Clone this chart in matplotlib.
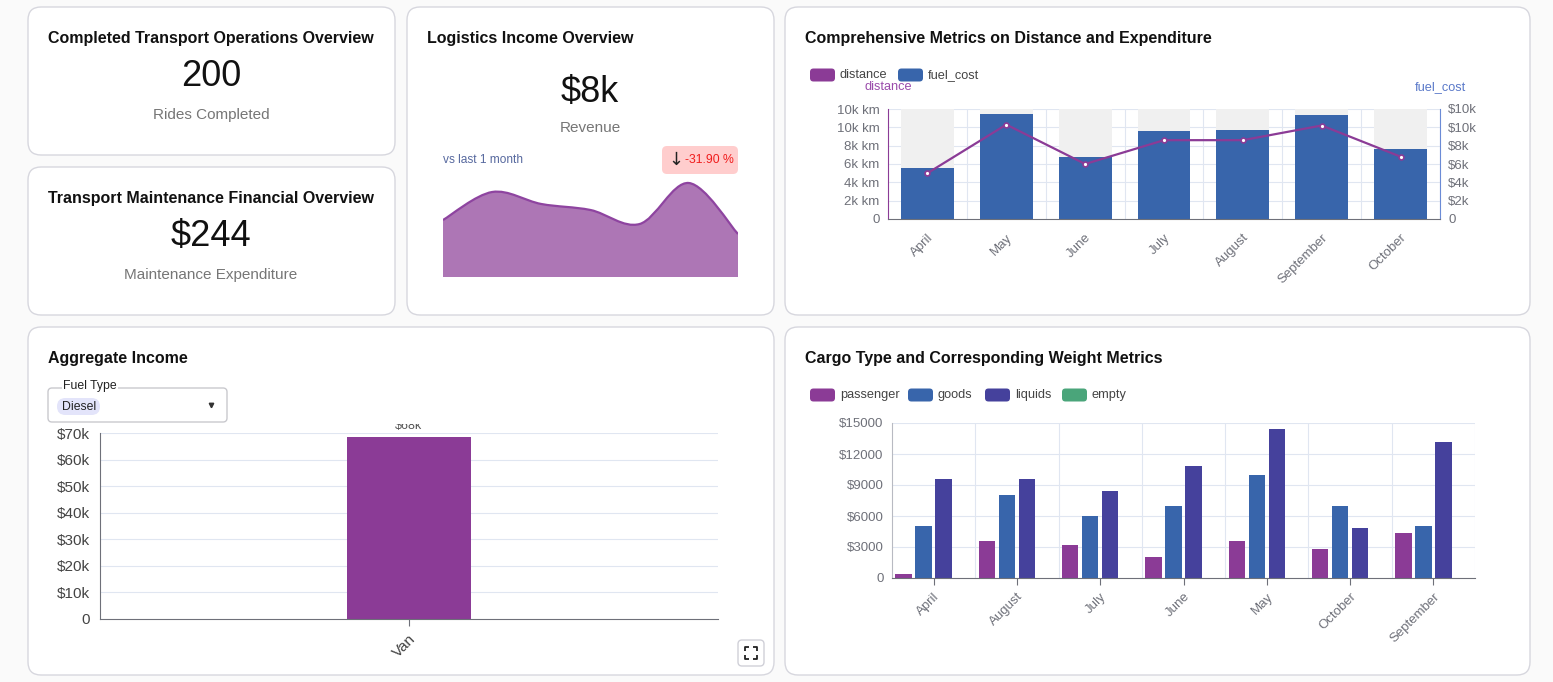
import matplotlib
matplotlib.use("Agg")
import matplotlib.pyplot as plt
import matplotlib.ticker as ticker
from matplotlib.patches import FancyBboxPatch, PathPatch
from matplotlib.path import Path
from matplotlib.transforms import Bbox, TransformedBbox
import numpy as np

# ==========================================
# DATA
# ==========================================
rides_completed = "200"
maintenance_spend = "$244"
revenue_total = "$8k"
revenue_change = "-31.90 %"
revenue_trend = [5.7, 8.5, 7.3, 6.7, 5.3, 9.4, 4.3]  # hidden axis sparkline

metric_months = ["April", "May", "June", "July", "August", "September", "October"]
distance_km = [5000, 10300, 6000, 8600, 8600, 10200, 6800]
fuel_cost = [5600, 11500, 6800, 9650, 9700, 11300, 7650]
metric_ticks = [0, 2000, 4000, 6000, 8000, 10000, 12000]
distance_tick_labels = ["0", "2k km", "4k km", "6k km", "8k km", "10k km", "10k km"]
fuel_tick_labels = ["0", "$2k", "$4k", "$6k", "$8k", "$10k", "$10k"]

vehicle_types = ["Van"]
vehicle_income = [68600]
income_ticks = [0, 10000, 20000, 30000, 40000, 50000, 60000, 70000]
income_tick_labels = ["0", "$10k", "$20k", "$30k", "$40k", "$50k", "$60k", "$70k"]

cargo_months = ["April", "August", "July", "June", "May", "October", "September"]
cargo_passenger = [400, 3600, 3200, 2000, 3600, 2800, 4400]
cargo_goods = [5000, 8000, 6000, 7000, 10000, 7000, 5000]
cargo_liquids = [9600, 9600, 8400, 10800, 14400, 4800, 13200]
cargo_empty = [0, 0, 0, 0, 0, 0, 0]
cargo_ticks = [0, 3000, 6000, 9000, 12000, 15000]
cargo_tick_labels = ["0", "$3000", "$6000", "$9000", "$12000", "$15000"]

# ==========================================
# STYLE
# ==========================================
PURPLE = "#8b3b96"
BLUE = "#3865ab"
INDIGO = "#45419c"
GREEN = "#4aa57a"
GRID = "#e0e6f1"
AXIS = "#6e7079"
CARD_EDGE = "#d7d7de"
TITLE_SIZE = 11.5
TICK_SIZE = 9.5

plt.rcParams["font.family"] = ["Liberation Sans", "DejaVu Sans"]

W, H = 1553, 682
fig = plt.figure(figsize=(W / 100, H / 100), dpi=100, facecolor="#fafafa")

# background canvas in pixel coordinates
bg = fig.add_axes([0, 0, 1, 1])
bg.set_xlim(0, W)
bg.set_ylim(H, 0)
bg.axis("off")


def px_axes(x0, y0, x1, y1):
    ax = fig.add_axes([x0 / W, 1 - y1 / H, (x1 - x0) / W, (y1 - y0) / H])
    ax.patch.set_alpha(0)
    return ax


def card(x0, y0, x1, y1):
    bg.add_patch(FancyBboxPatch((x0, y0), x1 - x0, y1 - y0,
                                boxstyle="round,pad=0,rounding_size=13",
                                fc="white", ec=CARD_EDGE, lw=1))


def legend_item(x, y, color, label):
    bg.add_patch(FancyBboxPatch((x, y - 6.5), 25, 13, boxstyle="round,pad=0,rounding_size=3.5",
                                fc=color, ec="none"))
    bg.text(x + 30, y, label, fontsize=9.2, color="#444", va="center", ha="left")


for box in [(28, 7, 395, 155), (28, 167, 395, 315), (407, 7, 774, 315),
            (785, 7, 1530, 315), (28, 327, 774, 675), (785, 327, 1530, 675)]:
    card(*box)

# --- KPI cards ---
bg.text(211, 38, "Completed Transport Operations Overview", fontsize=TITLE_SIZE, weight="bold",
        ha="center", va="center", color="#111")
bg.text(211, 77, rides_completed, fontsize=26, ha="center", va="center", color="#111")
bg.text(211, 115, "Rides Completed", fontsize=11, ha="center", va="center", color="#767676")

bg.text(211, 198, "Transport Maintenance Financial Overview", fontsize=TITLE_SIZE, weight="bold",
        ha="center", va="center", color="#111")
bg.text(211, 237, maintenance_spend, fontsize=26, ha="center", va="center", color="#111")
bg.text(211, 275, "Maintenance Expenditure", fontsize=11, ha="center", va="center", color="#767676")

# --- Logistics income card ---
bg.text(427, 38, "Logistics Income Overview", fontsize=TITLE_SIZE, weight="bold",
        ha="left", va="center", color="#111")
bg.text(590, 92, revenue_total, fontsize=26, ha="center", va="center", color="#111")
bg.text(590, 128, "Revenue", fontsize=11, ha="center", va="center", color="#767676")
bg.text(443, 160, "vs last 1 month", fontsize=8.6, ha="left", va="center", color="#56689e")
bg.add_patch(FancyBboxPatch((662, 146), 76, 28, boxstyle="round,pad=0,rounding_size=5",
                            fc="#ffcdcd", ec="none"))
bg.text(676, 160, "\u2193", fontsize=13, ha="center", va="center", color="#222",
        family="DejaVu Sans")
bg.text(685, 160, revenue_change, fontsize=8.8, ha="left", va="center", color="#f01c1c")

ax_s = px_axes(443, 178, 738, 277)
n = len(revenue_trend)
xs = np.arange(n, dtype=float)
ys = np.array(revenue_trend, dtype=float)
verts = [(xs[0], ys[0])]
codes = [Path.MOVETO]
for i in range(n - 1):
    p_prev = np.array([xs[max(i - 1, 0)], ys[max(i - 1, 0)]])
    p0 = np.array([xs[i], ys[i]])
    p1 = np.array([xs[i + 1], ys[i + 1]])
    p_next = np.array([xs[min(i + 2, n - 1)], ys[min(i + 2, n - 1)]])
    c1 = p0 + (p1 - p_prev) / 6
    c2 = p1 - (p_next - p0) / 6
    verts += [tuple(c1), tuple(c2), tuple(p1)]
    codes += [Path.CURVE4] * 3
line_path = Path(verts, codes)
fill_path = Path(verts + [(xs[-1], 0), (xs[0], 0), (xs[0], ys[0])],
                 codes + [Path.LINETO, Path.LINETO, Path.CLOSEPOLY])
ax_s.add_patch(PathPatch(fill_path, fc="#ad76b5", ec="none"))
ax_s.add_patch(PathPatch(line_path, fill=False, ec="#8e44a0", lw=1.6))
ax_s.set_xlim(0, n - 1)
ax_s.set_ylim(0, 9.9)
ax_s.axis("off")

# --- Comprehensive metrics card ---
bg.text(805, 38, "Comprehensive Metrics on Distance and Expenditure", fontsize=TITLE_SIZE,
        weight="bold", ha="left", va="center", color="#111")
legend_item(810, 75, PURPLE, "distance")
legend_item(898, 75, BLUE, "fuel_cost")
bg.text(888, 87, "distance", fontsize=9.2, ha="center", va="center", color="#9a4bab")
bg.text(1440, 87, "fuel_cost", fontsize=9.2, ha="center", va="center", color="#5a79c9")

ax_d = px_axes(888, 109, 1440, 219)
ax_f = ax_d.twinx()
ax_d.set_zorder(ax_f.get_zorder() + 1)
ax_d.patch.set_visible(False)
xm = np.arange(len(metric_months))
ax_f.bar(xm, np.full(len(xm), metric_ticks[-1]), width=0.67, color="#f0f0f0", zorder=1)
ax_f.bar(xm, fuel_cost, width=0.67, color=BLUE, zorder=2)
ax_d.plot(xm, distance_km, color=PURPLE, lw=1.6, marker="o", ms=3.5,
          mfc="white", mec=PURPLE, mew=1.2, zorder=3)
for a, labels in [(ax_d, distance_tick_labels), (ax_f, fuel_tick_labels)]:
    a.set_ylim(metric_ticks[0], metric_ticks[-1])
    a.set_xlim(-0.5, len(xm) - 0.5)
    a.yaxis.set_major_locator(ticker.FixedLocator(metric_ticks))
    a.set_yticklabels(labels)
    a.tick_params(axis="y", length=0, pad=6, labelsize=TICK_SIZE, labelcolor=AXIS)
    a.spines["top"].set_visible(False)
for yv in metric_ticks[1:]:
    ax_f.axhline(yv, color=GRID, lw=0.8, zorder=0)
for xb in np.arange(-0.5, len(xm), 1.0):
    ax_f.axvline(xb, color=GRID, lw=0.8, zorder=0)
ax_d.spines["left"].set_color(PURPLE)
ax_d.spines["right"].set_visible(False)
ax_f.spines["left"].set_visible(False)
ax_f.spines["right"].set_color("#6b8bd6")
ax_d.spines["bottom"].set_color(AXIS)
ax_f.spines["bottom"].set_visible(False)
ax_d.set_xticks(np.arange(-0.5, len(xm), 1.0))
ax_d.set_xticklabels([])
ax_d.set_xticks(xm, minor=True)
ax_d.set_xticklabels(metric_months, minor=True, rotation=45, ha="right",
                     rotation_mode="anchor", fontsize=TICK_SIZE, color=AXIS)
ax_d.tick_params(axis="x", which="major", length=5, color=AXIS)
ax_d.tick_params(axis="x", which="minor", length=0, pad=9)
ax_f.set_xticks([])

# --- Aggregate income card ---
bg.text(48, 358, "Aggregate Income", fontsize=TITLE_SIZE, weight="bold", ha="left",
        va="center", color="#111")
bg.add_patch(FancyBboxPatch((48, 388), 179, 34, boxstyle="round,pad=0,rounding_size=4",
                            fc="white", ec="#c9c9ce", lw=1))
bg.text(63, 386, "Fuel Type", fontsize=8.8, ha="left", va="center", color="#222",
        bbox=dict(fc="white", ec="none", pad=1))
bg.add_patch(FancyBboxPatch((57, 398), 43, 17, boxstyle="round,pad=0,rounding_size=8.5",
                            fc="#e3e4fa", ec="none"))
bg.text(62, 406.5, "Diesel", fontsize=8.8, ha="left", va="center", color="#222")
bg.plot([211], [404.5], marker="v", ms=3.2, color="#333")

ax_e = px_axes(100, 433, 718, 619)
xe = np.arange(len(vehicle_types))
ax_e.bar(xe, vehicle_income, width=0.2, color=PURPLE, zorder=2)
ax_e.set_xlim(-0.5, len(xe) - 0.5)
ax_e.set_ylim(income_ticks[0], income_ticks[-1])
ax_e.yaxis.set_major_locator(ticker.FixedLocator(income_ticks))
ax_e.set_yticklabels(income_tick_labels)
ax_e.tick_params(axis="y", length=0, pad=7, labelsize=11, labelcolor="#444")
for yv in income_ticks[1:]:
    ax_e.axhline(yv, color=GRID, lw=0.8, zorder=0)
ax_e.set_xticks(xe)
ax_e.set_xticklabels(vehicle_types, rotation=45, ha="right", rotation_mode="anchor",
                     fontsize=11, color="#444")
ax_e.tick_params(axis="x", length=5, color=AXIS, pad=4)
for s in ["top", "right"]:
    ax_e.spines[s].set_visible(False)
ax_e.spines["left"].set_color(AXIS)
ax_e.spines["bottom"].set_color(AXIS)
for xi, v in zip(xe, vehicle_income):
    t = ax_e.text(xi, v + 1700, f"${int(v // 1000)}k", fontsize=9, color="#555",
                  ha="center", va="bottom")
    # value label is partly hidden by the chart container in the reference
    t.set_clip_box(TransformedBbox(Bbox([[0, 424], [W, H]]), bg.transData))
    t.set_clip_on(True)

# expand icon
bg.add_patch(FancyBboxPatch((738, 640), 26, 26, boxstyle="round,pad=0,rounding_size=4",
                            fc="white", ec="#d0d0d8", lw=1))
for cx, cy, dx, dy in [(745, 647, 1, 1), (757, 647, -1, 1), (745, 659, 1, -1), (757, 659, -1, -1)]:
    bg.plot([cx + 4 * dx, cx, cx], [cy, cy, cy + 4 * dy], color="#222", lw=1.3,
            solid_capstyle="butt")

# --- Cargo card ---
bg.text(805, 358, "Cargo Type and Corresponding Weight Metrics", fontsize=TITLE_SIZE,
        weight="bold", ha="left", va="center", color="#111")
legend_item(810, 395, PURPLE, "passenger")
legend_item(908, 395, BLUE, "goods")
legend_item(985, 395, INDIGO, "liquids")
legend_item(1062, 395, GREEN, "empty")

ax_c = px_axes(892, 423, 1475, 578)
xc = np.arange(len(cargo_months))
series = [(cargo_passenger, PURPLE), (cargo_goods, BLUE), (cargo_liquids, INDIGO),
          (cargo_empty, GREEN)]
step = 0.24
for k, (vals, col) in enumerate(series):
    ax_c.bar(xc + (k - 1.5) * step, vals, width=0.198, color=col, zorder=2)
ax_c.set_xlim(-0.5, len(xc) - 0.5)
ax_c.set_ylim(cargo_ticks[0], cargo_ticks[-1])
ax_c.yaxis.set_major_locator(ticker.FixedLocator(cargo_ticks))
ax_c.set_yticklabels(cargo_tick_labels)
ax_c.tick_params(axis="y", length=0, pad=6, labelsize=TICK_SIZE, labelcolor=AXIS)
for yv in cargo_ticks[1:]:
    ax_c.axhline(yv, color=GRID, lw=0.8, zorder=0)
for xb in np.arange(0.5, len(xc), 1.0):
    ax_c.axvline(xb, color=GRID, lw=0.8, zorder=0)
ax_c.set_xticks(xc)
ax_c.set_xticklabels(cargo_months, rotation=45, ha="right", rotation_mode="anchor",
                     fontsize=TICK_SIZE, color=AXIS)
ax_c.tick_params(axis="x", length=5, color=AXIS, pad=4)
ax_c.spines["top"].set_visible(False)
ax_c.spines["right"].set_visible(False)
ax_c.spines["left"].set_color("#b8bac2")
ax_c.spines["bottom"].set_color(AXIS)

fig.savefig("out.png", dpi=100, facecolor=fig.get_facecolor())
